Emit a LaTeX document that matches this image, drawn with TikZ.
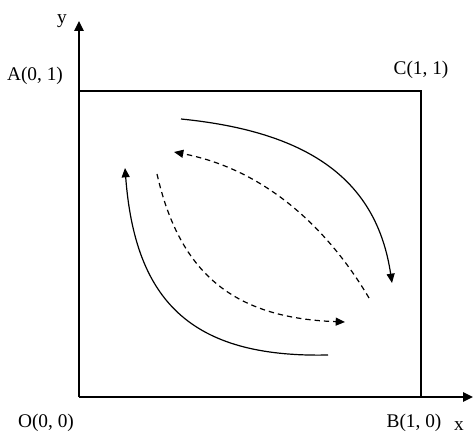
\documentclass[tikz,border=0pt]{standalone}
\usepackage{fontspec}
\setmainfont{Liberation Serif}
\usetikzlibrary{arrows.meta}

\begin{document}
\begin{tikzpicture}[
    x=0.75pt, y=-0.75pt,
    axis/.style={line width=1.1pt, -{Triangle[length=7.5pt, width=7pt]}},
    frame/.style={line width=1.1pt},
    flow/.style={line width=0.9pt, -{Triangle[length=7pt, width=6pt]}},
    backflow/.style={flow, dashed, dash pattern=on 4pt off 3pt},
    lbl/.style={font=\fontsize{14.5}{17}\selectfont, inner sep=1pt}
]
\useasboundingbox (0,0) rectangle (474,441);
\coordinate (O) at (79,397);
\coordinate (A) at (79,91);
\coordinate (B) at (421,397);
\coordinate (C) at (421,91);
\coordinate (xend) at (473,397);
\coordinate (yend) at (79,21);
\node[lbl] (ylab) at (62,21) {y};
\node[lbl] (alab) at (35,76) {A(0, 1)};
\node[lbl] (clab) at (421,70) {C(1, 1)};
\node[lbl] (olab) at (46,423) {O(0, 0)};
\node[lbl] (blab) at (414,423) {B(1, 0)};
\node[lbl] (xlab) at (459,426) {x};
\draw[axis] (O) -- (xend);
\draw[axis] (O) -- (yend);
\draw[frame] (A) -- (C) -- (B);
\coordinate (s1) at (181,119);
\coordinate (e1) at (392,283);
\coordinate (s2) at (328,355);
\coordinate (e2) at (125,168);
\coordinate (s3) at (157,174);
\coordinate (e3) at (345,322);
\coordinate (s4) at (369,298);
\coordinate (e4) at (174,152);
\draw[flow] (s1) .. controls (312,132) and (377,182) .. (e1);
\draw[flow] (s2) .. controls (190,358) and (135,300) .. (e2);
\draw[backflow] (s3) .. controls (180,275) and (235,318) .. (e3);
\draw[backflow] (s4) .. controls (330,232) and (268,170) .. (e4);
\end{tikzpicture}
\end{document}
